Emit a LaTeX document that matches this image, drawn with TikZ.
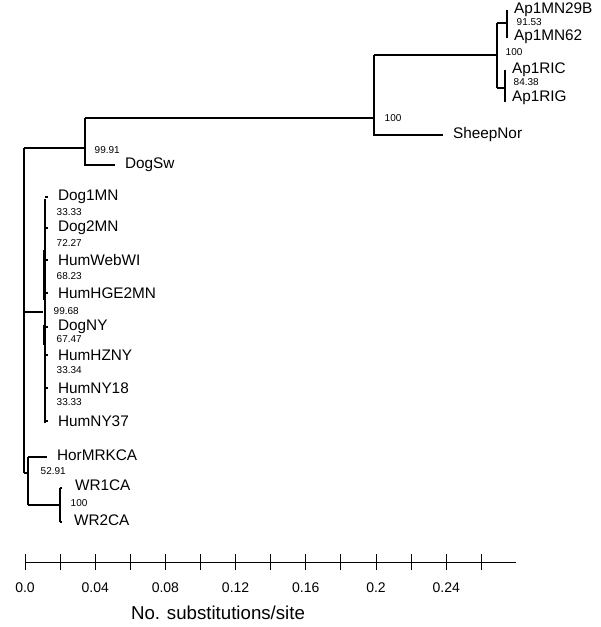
\documentclass[tikz,border=0pt]{standalone}
\usepackage{fontspec}
\setmainfont{Liberation Sans}
\usetikzlibrary{positioning}

\begin{document}
\begin{tikzpicture}[x=0.75pt,y=-0.75pt,line width=1.1pt,
  tip/.style={anchor=west,inner sep=1pt,font=\fontsize{11.5}{11.5}\selectfont},
  bs/.style={anchor=west,inner sep=0pt,font=\fontsize{7.5}{7.5}\selectfont},
  tick/.style={line width=0.7pt}]
\useasboundingbox (0,0) rectangle (600,627);
% internal nodes
\coordinate (root) at (24,148);
\coordinate (nA) at (85,118);
\coordinate (nB) at (374,55);
\coordinate (nC) at (497,55);
% upper clade
\draw (root) -- (85,148);
\draw (85,118) -- (85,165) -- (115,165) node[tip,xshift=6pt] (dogsw) {DogSw};
\draw (nA) -- (374,118);
\draw (374,55) -- (374,135) -- (443,135) node[tip,xshift=6pt] (sheep) {SheepNor};
\draw (nB) -- (nC);
\draw (497,23) -- (497,88);
\draw (497,23) -- (507,23);
\draw (507,10) -- (507,38);
\draw (497,88) -- (505,88);
\draw (505,70) -- (505,102);
\node[tip] (ap1) at (512,10) {Ap1MN29B};
\node[tip] (ap2) at (512,37) {Ap1MN62};
\node[tip] (ap3) at (510,70) {Ap1RIC};
\node[tip] (ap4) at (510,98) {Ap1RIG};
\node[bs] at (516,22) {91.53};
\node[bs] at (505,52) {100};
\node[bs] at (513,82) {84.38};
\node[bs] at (384,118) {100};
\node[bs] at (94,150) {99.91};
% lower clade
\draw (24,148) -- (24,473);
\draw (24,312) -- (43,312);
\draw (45,199) -- (45,423);
\draw[line width=2pt] (44,250) -- (44,300);
\draw[line width=2pt] (44,325) -- (44,345);
\foreach \y/\t/\n in {197/Dog1MN/d1, 228/Dog2MN/d2, 260/HumWebWI/h1, 293/HumHGE2MN/h2,
  327/DogNY/d3, 355/HumHZNY/h3, 388/HumNY18/h4, 421/HumNY37/h5} {
  \draw (45,\y) -- (48,\y);
  \node[tip] (\n) at (56,\y) {\t};
}
\foreach \y/\v in {212/33.33, 243/72.27, 276/68.23, 339/67.47, 370/33.34, 402/33.33} {
  \node[bs] at (56,\y) {\v};
}
\node[bs] at (53,311) {99.68};
% HorMRKCA and WR
\draw (24,473) -- (28,473);
\draw (28,457) -- (28,505);
\draw (28,457) -- (47,457);
\node[tip] (hor) at (55,455) {HorMRKCA};
\node[bs] at (40,471) {52.91};
\draw (28,505) -- (60,505);
\draw (60,488) -- (60,522);
\draw (60,488) -- (62,488);
\draw (60,522) -- (62,522);
\node[tip] (wr1) at (73,485) {WR1CA};
\node[tip] (wr2) at (72,520) {WR2CA};
\node[bs] at (70,503) {100};
% scale axis
\draw[tick] (25,562) -- (516,562);
\foreach \i in {0,...,13} {
  \draw[tick] (25+35.1*\i,554) -- (25+35.1*\i,570);
}
\foreach \i/\l in {0/0.0,2/0.04,4/0.08,6/0.12,8/0.16,10/0.2,12/0.24} {
  \node[font=\fontsize{10.5}{10.5}\selectfont] at (25+35.1*\i,588) {\l};
}
\node[font=\fontsize{14}{14}\selectfont] (axtitle) at (218,613) {No. substitutions/site};
\end{tikzpicture}
\end{document}
